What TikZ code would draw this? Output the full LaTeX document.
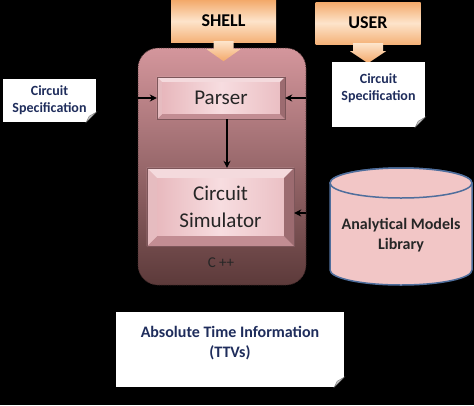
\documentclass[tikz,border=0pt]{standalone}
\usepackage{fontspec}
\setmainfont{Carlito}
\usetikzlibrary{shapes.geometric,arrows.meta,calc}
\definecolor{navy}{HTML}{1F2D5C}
\definecolor{peachL}{HTML}{FDE4CB}
\definecolor{peachD}{HTML}{F3A96A}
\definecolor{contT}{HTML}{D4969C}
\definecolor{contB}{HTML}{5C3A3A}
\definecolor{faceA}{HTML}{E6B4B9}
\definecolor{faceB}{HTML}{F7DDE0}
\definecolor{bevT}{HTML}{F4DADD}
\definecolor{bevL}{HTML}{E6BCC0}
\definecolor{bevR}{HTML}{9C6B70}
\definecolor{bevB}{HTML}{C28D93}
\definecolor{cylF}{HTML}{F2C6C6}
\definecolor{cylE}{HTML}{4F6E9C}
\definecolor{foldG}{HTML}{C8C8C8}
\newcommand\bevelsides[2]{%
 \fill[bevT] (#1.north west) -- (#1.north east) -- ([shift={(-#2,#2)}]#1.north east) -- ([shift={(#2,#2)}]#1.north west) -- cycle;
 \fill[bevB] (#1.south west) -- (#1.south east) -- ([shift={(-#2,-#2)}]#1.south east) -- ([shift={(#2,-#2)}]#1.south west) -- cycle;
 \fill[bevL] (#1.north west) -- (#1.south west) -- ([shift={(#2,-#2)}]#1.south west) -- ([shift={(#2,#2)}]#1.north west) -- cycle;
 \fill[bevR] (#1.north east) -- (#1.south east) -- ([shift={(-#2,-#2)}]#1.south east) -- ([shift={(-#2,#2)}]#1.north east) -- cycle;
 \draw[draw=bevR!80!black, line width=0.4pt] (#1.north west) rectangle (#1.south east);
}
\newcommand\notefold[1]{%
 \fill[black] (#1.south east) -- ([shift={(-10,0)}]#1.south east) -- ([shift={(0,-10)}]#1.south east) -- cycle;
 \draw[fill=foldG, draw=gray, line width=0.4pt] ([shift={(-10,0)}]#1.south east) -- ([shift={(0,-10)}]#1.south east) -- ([shift={(-7,-6)}]#1.south east) -- cycle;
}
\begin{document}
\begin{tikzpicture}[x=1pt,y=-1pt,
  container/.style={rounded corners=20pt, minimum width=168pt, minimum height=237pt,
    top color=contT, bottom color=contB, draw=contB!70!black, densely dotted, line width=0.8pt},
  calloutbox/.style={minimum width=105pt, minimum height=42pt, top color=peachD, bottom color=peachD!85!peachL, middle color=peachL,
    font=\fontsize{18}{20}\selectfont\bfseries, text=black},
  calloutarrow/.style={top color=peachL, bottom color=peachD},
  bevelbox/.style={left color=faceA, right color=faceA!80!faceB, middle color=faceB, inner sep=0pt,
    font=\fontsize{21}{27}\selectfont, text=black!85, align=center},
  note/.style={fill=white, inner sep=0pt},
  notetext/.style={font=\fontsize{14}{17}\selectfont\bfseries, text=navy, align=center},
  cyl/.style={fill=cylF, draw=cylE, line width=1.5pt},
  conn/.style={line width=1.5pt, draw=black, -{Stealth[length=7pt,width=7pt]}},
]
\fill[black] (0,0) rectangle (474,405);
\useasboundingbox (0,0) rectangle (474,405);

% C++ container
\node[container] (cont) at (222,166.5) {};
\node[font=\fontsize{15}{17}\selectfont, text=black!85] (cpp) at (221,263) {C ++};

% SHELL callout
\node[calloutbox] (shell) at (223.5,21) {SHELL};
\path[calloutarrow] ([shift={(-10,-1)}]shell.south) -- ([shift={(-10,7)}]shell.south) -- ([shift={(-17,7)}]shell.south)
  -- ([shift={(0,19)}]shell.south) -- ([shift={(17,7)}]shell.south) -- ([shift={(10,7)}]shell.south) -- ([shift={(10,-1)}]shell.south) -- cycle;

% USER callout
\node[calloutbox] (user) at (368,23) {USER};
\path[calloutarrow] ([shift={(-15,-1)}]user.south) -- ([shift={(-15,7)}]user.south) -- ([shift={(-18,7)}]user.south)
  -- ([shift={(0,19)}]user.south) -- ([shift={(18,7)}]user.south) -- ([shift={(15,7)}]user.south) -- ([shift={(15,-1)}]user.south) -- cycle;

% notes
\node[note, minimum width=93pt, minimum height=43pt, notetext] (specL) at (49.5,100.5) {Circuit\\Specification};
\notefold{specL}
\node[note, minimum width=93pt, minimum height=65pt] (specR) at (378.5,94.5) {};
\notefold{specR}
\node[notetext] (specRt) at (378.5,88) {Circuit\\Specification};
\node[note, minimum width=228pt, minimum height=75pt] (ttv) at (230,349.5) {};
\notefold{ttv}
\node[notetext, font=\fontsize{16}{20}\selectfont\bfseries] (ttvt) at (230,343) {Absolute Time Information\\(TTVs)};

% Parser
\node[bevelbox, minimum width=128pt, minimum height=42pt] (parser) at (221,98) {};
\bevelsides{parser}{5}
\node[font=\fontsize{21}{27}\selectfont, text=black!85] (parsert) at (parser.center) {Parser};

% Simulator
\node[bevelbox, minimum width=147pt, minimum height=78pt] (sim) at (220.5,207) {};
\bevelsides{sim}{10}
\node[font=\fontsize{21}{27}\selectfont, text=black!85, align=center] (simt) at (sim.center) {Circuit\\Simulator};

% library cylinder
\path[cyl] (330,183) -- (330,270) arc[start angle=180, end angle=360, x radius=71pt, y radius=15pt]
  -- (472,183) arc[start angle=0, end angle=180, x radius=71pt, y radius=15pt] -- cycle;
\path[cyl] (401,183) ellipse [x radius=71pt, y radius=15pt];
\node[font=\fontsize{16}{20}\selectfont\bfseries, text=black!85, align=center] (lib) at (401,235) {Analytical Models\\Library};

% connectors
\draw[conn] (cont.west |- parser.west) -- (parser.west);
\draw[conn] (cont.east |- parser.east) -- (parser.east);
\draw[conn] ([xshift=6pt]parser.south) -- ([xshift=6pt]parser.south |- sim.north);
\draw[conn] ([yshift=-6pt]cont.east |- sim.east) -- ([yshift=-6pt]sim.east);
\end{tikzpicture}
\end{document}
